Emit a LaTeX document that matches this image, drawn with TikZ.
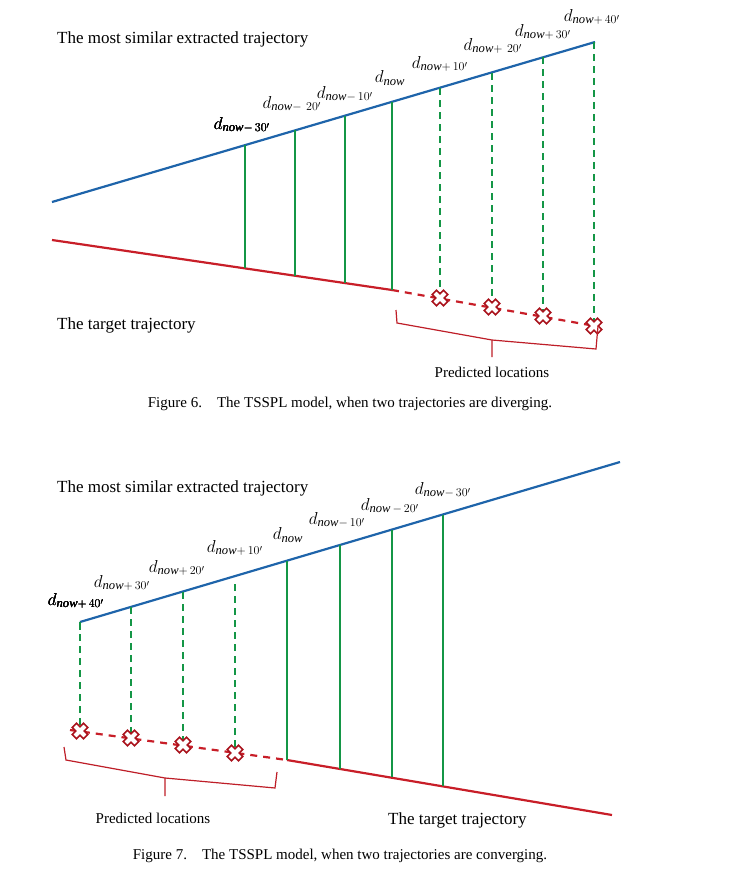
\documentclass[tikz,border=0pt]{standalone}
\usepackage{fontspec}
\setmainfont{Liberation Serif}
\begin{document}
\begin{tikzpicture}[x=1pt,y=-1pt,
  blueln/.style={draw={rgb,255:red,30;green,100;blue,170},line width=2.2pt},
  redln/.style={draw={rgb,255:red,200;green,30;blue,40},line width=2.2pt},
  redds/.style={redln,dash pattern=on 7pt off 6pt},
  grn/.style={draw={rgb,255:red,20;green,150;blue,70},line width=1.9pt},
  grnds/.style={grn,dash pattern=on 7pt off 5pt},
  brace/.style={draw={rgb,255:red,190;green,30;blue,40},line width=1.2pt},
  lbl/.style={font=\fontsize{17}{19}\selectfont,inner sep=0pt},
  capt/.style={font=\fontsize{15}{17}\selectfont,inner sep=0pt},
  dl/.style={font=\fontsize{18}{20}\selectfont,inner sep=0pt}]
\useasboundingbox (0,0) rectangle (738,876);
\newcommand{\xmk}[1]{\begin{scope}[shift={#1},rotate=45]
 \filldraw[fill=white,draw={rgb,255:red,170;green,20;blue,30},line width=1.6pt]
 (-3,-8)--(3,-8)--(3,-3)--(8,-3)--(8,3)--(3,3)--(3,8)--(-3,8)--(-3,3)--(-8,3)--(-8,-3)--(-3,-3)--cycle;
 \end{scope}}
%%%%% Figure 6
\coordinate (b0) at (52,202); \coordinate (b1) at (595,42);
\coordinate (r0) at (52,240); \coordinate (r1) at (392,290); \coordinate (r2) at (595,326);
\draw[blueln] (b0)--(b1);
\draw[redln] (r0)--(r1);
\draw[redds] (r1)--(r2);
\foreach \x/\bt/\rb in {245/145/268,295/130/276,345/116/283,392/102/290}
  \draw[grn] (\x,\bt)--(\x,\rb);
\foreach \x/\bt/\rb/\n in {440/88/298/a,492/73/307/b,543/57/316/c,594/42/326/d}{
  \coordinate (c6\n) at (\x,\rb);
  \draw[grnds] (\x,\bt)--(c6\n);}
\foreach \n in {a,b,c,d} \xmk{(c6\n)}
\node[dl] (l1) at (242,125) {$d_{\mathit{now}-\,30'}$};
\node[dl] (l2) at (292,104) {$d_{\mathit{now}-\ 20'}$};
\node[dl] (l3) at (345,94) {$d_{\mathit{now}-\,10'}$};
\node[dl] (l4) at (390,78) {$d_{\mathit{now}}$};
\node[dl] (l5) at (440,64) {$d_{\mathit{now}+\,10'}$};
\node[dl] (l6) at (493,46) {$d_{\mathit{now}+\ 20'}$};
\node[dl] (l7) at (543,32) {$d_{\mathit{now}+\,30'}$};
\node[dl] (l8) at (592,17) {$d_{\mathit{now}+\,40'}$};
\node[lbl,anchor=west] (t6a) at (57,39) {The most similar extracted trajectory};
\node[lbl,anchor=west] (t6b) at (57,325) {The target trajectory};
\draw[brace] (396,310)--(397,323)--(492,340)--(492,357) (492,340)--(596,349)--(598,326);
\node[capt] (p6) at (492,372) {Predicted locations};
\node[capt] (f6) at (350,404) {Figure 6.\quad The TSSPL model, when two trajectories are diverging.};
%%%%% Figure 7
\coordinate (B0) at (80,622); \coordinate (B1) at (620,462);
\coordinate (R0) at (70,730); \coordinate (R1) at (287,760); \coordinate (R2) at (612,815);
\draw[blueln] (B0)--(B1);
\draw[redds] (R0)--(R1);
\draw[redln] (R1)--(R2);
\foreach \x/\bt/\rb in {287/561/760,340/545/769,392/530/777,443/515/786}
  \draw[grn] (\x,\bt)--(\x,\rb);
\draw[grn] (80,622)--(80,630);
\foreach \x/\bt/\rb/\n in {80/622/731/a,131/607/738/b,183/592/745/c,235/584/753/d}{
  \coordinate (c7\n) at (\x,\rb);
  \draw[grnds] (\x,\bt)--(c7\n);}
\foreach \n in {a,b,c,d} \xmk{(c7\n)}
\node[dl] (m1) at (76,601) {$d_{\mathit{now}+\,40'}$};
\node[dl] (m2) at (122,583) {$d_{\mathit{now}+\,30'}$};
\node[dl] (m3) at (177,568) {$d_{\mathit{now}+\,20'}$};
\node[dl] (m4) at (235,548) {$d_{\mathit{now}+\,10'}$};
\node[dl] (m5) at (288,535) {$d_{\mathit{now}}$};
\node[dl] (m6) at (337,520) {$d_{\mathit{now}-\,10'}$};
\node[dl] (m7) at (390,506) {$d_{\mathit{now}\,-\,20'}$};
\node[dl] (m8) at (443,490) {$d_{\mathit{now}-\,30'}$};
\node[lbl,anchor=west] (t7a) at (57,488) {The most similar extracted trajectory};
\node[lbl,anchor=west] (t7b) at (388,820) {The target trajectory};
\draw[brace] (64,747)--(66,760)--(165,778)--(165,796) (165,778)--(275,788)--(277,772);
\node[capt] (p7) at (153,818) {Predicted locations};
\node[capt] (f7) at (340,856) {Figure 7.\quad The TSSPL model, when two trajectories are converging.};
\end{tikzpicture}
\end{document}
